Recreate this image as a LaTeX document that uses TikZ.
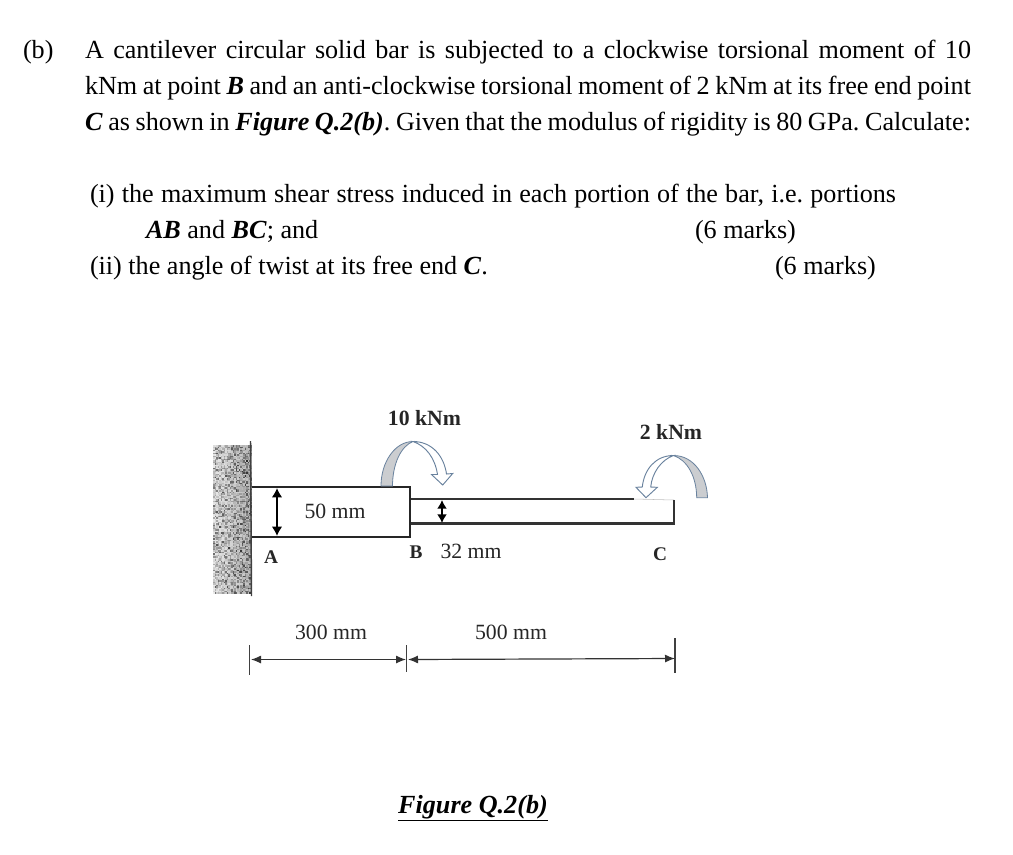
\documentclass[tikz,border=0pt]{standalone}
\usepackage{fontspec}
\setmainfont{Liberation Serif}
\usetikzlibrary{arrows.meta}
\frenchspacing
\newcommand{\bodysize}{\fontsize{19.6}{23}\selectfont}
\newcommand{\figsize}{\fontsize{16.3}{19}\selectfont}
\newcommand{\lineto}[2]{\makebox[#1][s]{#2}}
\definecolor{steel}{RGB}{105,130,158}
\definecolor{bandgray}{RGB}{203,205,208}
\tikzset{
  x=0.75pt,y=-0.75pt,
  bodytext/.style={anchor=base west,inner sep=0pt,outer sep=0pt,font=\bodysize},
  figlabel/.style={anchor=base,inner sep=0pt,outer sep=0pt,font=\figsize,text=black!85},
  figbold/.style={figlabel,font=\figsize\bfseries,text=black!85},
  beamline/.style={line width=1.9pt,black!85},
  thinbeam/.style={line width=1.6pt,black!80},
  dimline/.style={line width=0.9pt,black!80},
  tick/.style={line width=1pt,black!75},
  dimarrow/.style={dimline,{Latex[length=7.5pt,width=6pt]}-{Latex[length=7.5pt,width=6pt]}},
  bandfill/.style={draw=steel,line width=0.6pt,fill=bandgray},
  hollow/.style={draw=steel,line width=0.7pt,fill=white}
}
\begin{document}
\begin{tikzpicture}
\useasboundingbox (0,0) rectangle (1013,854);
\fill[white] (0,0) rectangle (1013,854);
% question text
\node[bodytext] (tb) at (23,58) {(b)};
\node[bodytext] (t1) at (85,58) {\lineto{664.5pt}{A cantilever circular solid bar is subjected to a clockwise torsional moment of 10}};
\node[bodytext] (t2) at (85,94) {\lineto{664.5pt}{kNm at point \textbf{\textit{B}} and an anti-clockwise torsional moment of 2 kNm at its free end point}};
\node[bodytext] (t3) at (85,130) {\lineto{664.5pt}{\textbf{\textit{C}} as shown in \textbf{\textit{Figure Q.2(b)}}. Given that the modulus of rigidity is 80 GPa. Calculate:}};
\node[bodytext] (t4) at (90,202) {\lineto{604.5pt}{(i) the maximum shear stress induced in each portion of the bar, i.e. portions}};
\node[bodytext] (t5) at (146,238) {\textbf{\textit{AB}} and \textbf{\textit{BC}}; and};
\node[bodytext] (m1) at (695,238) {(6 marks)};
\node[bodytext] (t6) at (90,274) {(ii) the angle of twist at its free end \textbf{\textit{C}}.};
\node[bodytext] (m2) at (775,274) {(6 marks)};
% wall texture
\pgfmathsetseed{4711}
\fill[black!14] (213,445) rectangle (251,594);
\foreach \i in {0,...,25}{
  \foreach \j in {0,...,98}{
    \pgfmathsetmacro{\g}{int(8+rnd*rnd*62+\i*0.7)}
    \fill[black!\g] ({213+1.5*\i},{445+1.5*\j}) rectangle ++(1.5,1.5);
  }
}
\coordinate (wt) at (250.5,441);
\coordinate (wb) at (251.5,596);
\draw[line width=1.1pt,black!75] (wt) -- (wb);
% beam
\coordinate (a1) at (251.5,487);
\coordinate (b1) at (410,487);
\coordinate (b2) at (410,537);
\coordinate (a2) at (251.5,537);
\draw[beamline] (a1) -- (b1) -- (b2) -- (a2);
\coordinate (c0) at (411,499);
\coordinate (c1) at (634,499);
\coordinate (c2) at (674,500);
\coordinate (c3) at (674,523.5);
\coordinate (c4) at (411,523.5);
\draw[thinbeam] (c0) -- (c1);
\draw[black!25,line width=0.4pt] (c1) -- (c2);
\draw[thinbeam] (c2) -- (c3) -- (c4);
% diameter arrows
\coordinate (d1) at (277,488);
\coordinate (d2) at (277,536);
\draw[line width=1.4pt,{Latex[length=7pt,width=8pt]}-{Latex[length=7pt,width=8pt]}] (d1) -- (d2);
\coordinate (e1) at (442,500);
\coordinate (e2) at (442,523);
\draw[line width=1.3pt,{Latex[length=6.5pt,width=7.5pt]}-{Latex[length=6.5pt,width=7.5pt]}] (e1) -- (e2);
% moment at B
\draw[hollow] (413,441.5) .. controls (432,441.5) and (444,456) .. (446.5,474)
  -- (452.7,473.5) -- (442.7,485) -- (431.5,474.5) -- (437.5,474.5)
  .. controls (435,458) and (426,446) .. (413,441.5) -- cycle;
\draw[bandfill] (381,486) .. controls (381,462) and (395,441.5) .. (413,441.5)
  .. controls (401,446) and (392.5,464) .. (392.5,486) -- cycle;
% moment at C
\draw[hollow] (673.5,455.5) .. controls (655,455.5) and (644,470) .. (642.3,487)
  -- (636,487.3) -- (646,497.7) -- (657.3,487.3) -- (650.7,487)
  .. controls (652,473) and (661,460) .. (673.5,455.5) -- cycle;
\draw[bandfill] (707.5,497.7) .. controls (707,476) and (694,455.5) .. (673.5,455.5)
  .. controls (687,460) and (696.5,476) .. (696.7,497.7) -- cycle;
% dimension lines
\coordinate (k1a) at (249.5,645);
\coordinate (k1b) at (249.5,675);
\coordinate (k2a) at (406.5,645);
\coordinate (k2b) at (406.5,672);
\coordinate (k3a) at (675,638);
\coordinate (k3b) at (675,673);
\coordinate (l1) at (251,659.5);
\coordinate (l2) at (406,659.5);
\coordinate (l3) at (408,659.5);
\coordinate (l4) at (675,658.5);
\draw[tick] (k1a) -- (k1b);
\draw[tick] (k2a) -- (k2b);
\draw[tick] (k3a) -- (k3b);
\draw[dimarrow] (l1) -- (l2);
\draw[dimarrow] (l3) -- (l4);
% figure labels
\node[figbold] (m10) at (424.5,425) {10 kNm};
\node[figbold] (m2k) at (671,439) {2 kNm};
\node[figlabel] (l50) at (335,518) {50 mm};
\node[figbold,font=\fontsize{14.5}{17}\selectfont\bfseries] (la) at (271,563.5) {A};
\node[figbold,font=\fontsize{14.5}{17}\selectfont\bfseries] (lb) at (416,558) {B};
\node[figlabel] (l32) at (471,558) {32 mm};
\node[figbold,font=\fontsize{14.5}{17}\selectfont\bfseries] (lc) at (660,560.5) {C};
\node[figlabel] (l300) at (331,639) {300 mm};
\node[figlabel] (l500) at (511,639) {500 mm};
\node[anchor=base,inner sep=0pt,font=\bodysize\bfseries\itshape] (cap) at (473,813) {\underline{Figure Q.2(b)}};
\end{tikzpicture}
\end{document}
